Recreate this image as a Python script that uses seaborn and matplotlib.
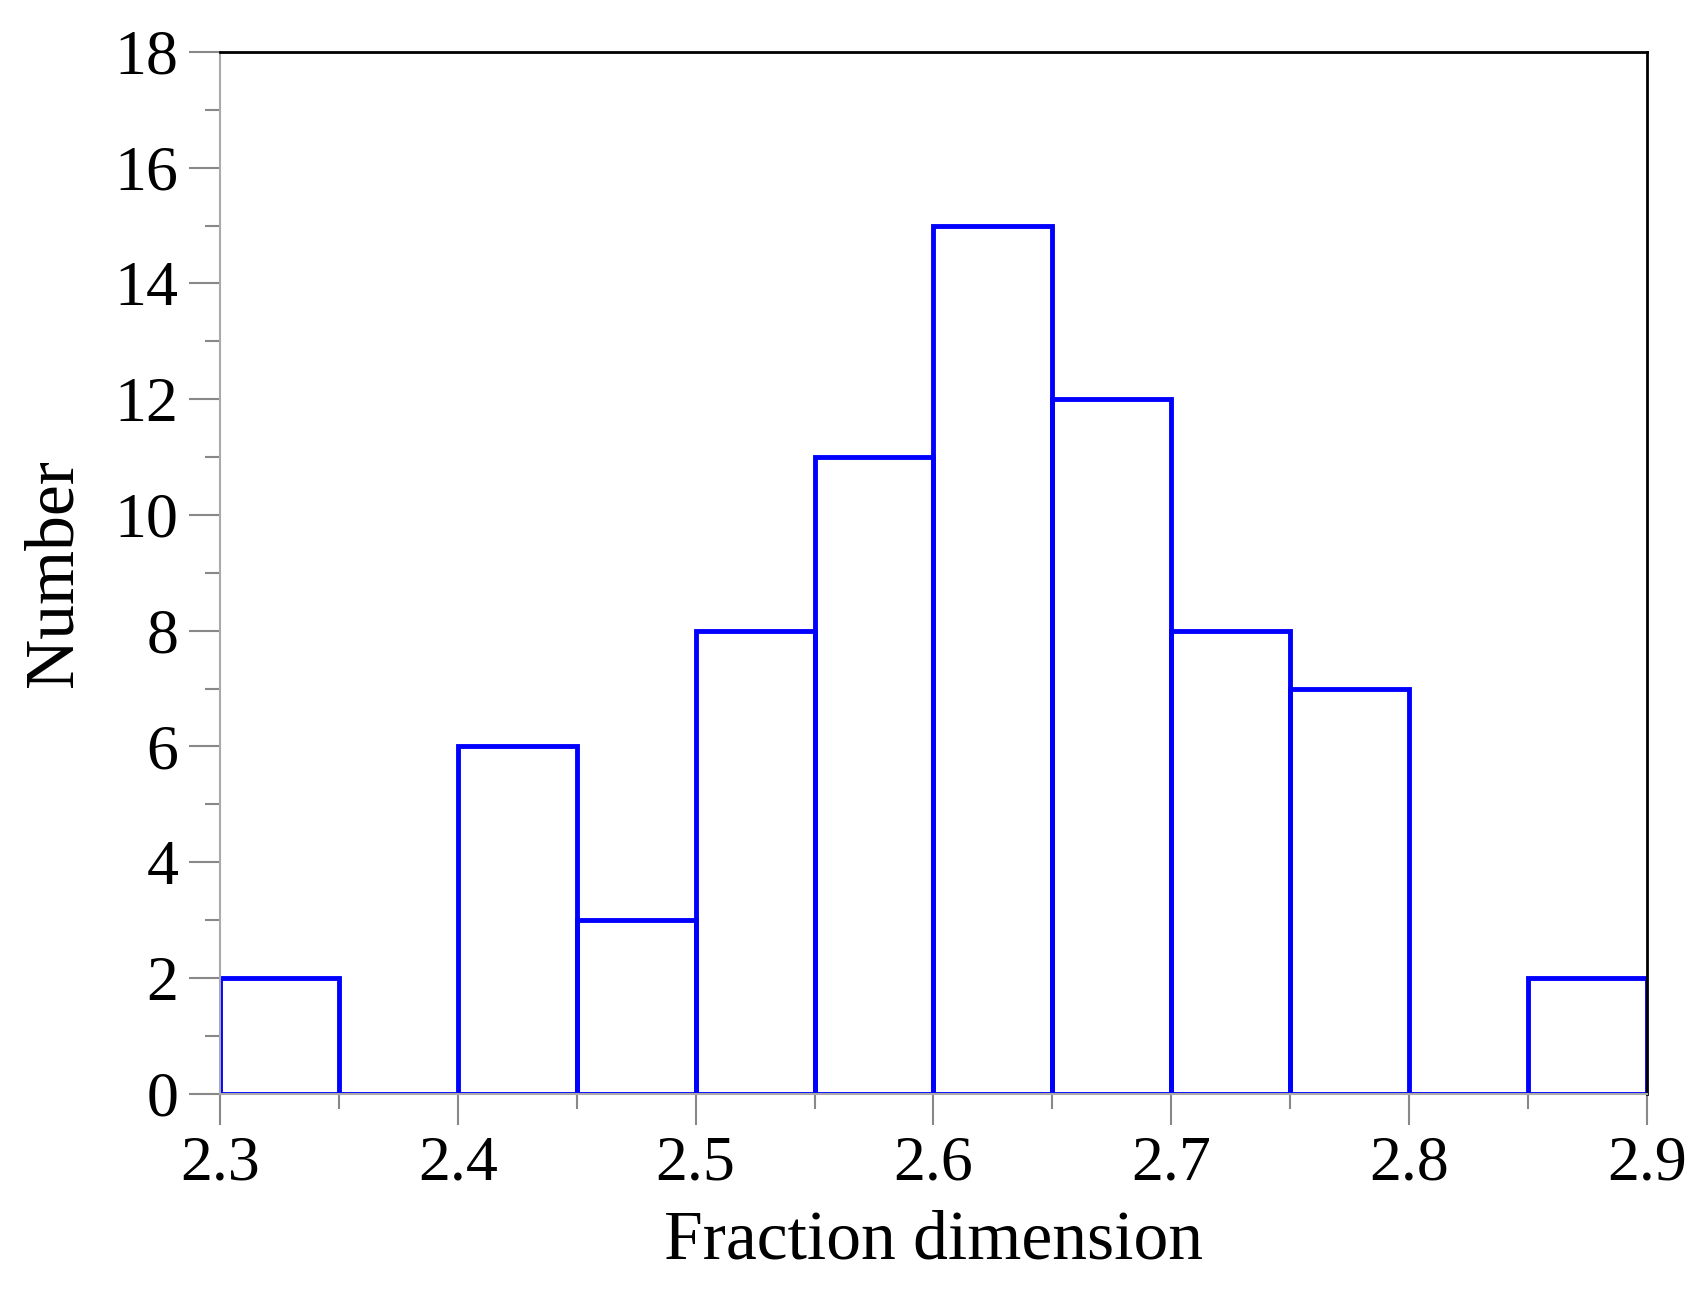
import numpy as np
import pandas as pd
import matplotlib
matplotlib.use("Agg")
import matplotlib.pyplot as plt
import seaborn as sns
from matplotlib.ticker import MultipleLocator

# histogram bins and counts
bin_edges = [2.30, 2.35, 2.40, 2.45, 2.50, 2.55, 2.60, 2.65, 2.70, 2.75, 2.80, 2.85, 2.90]
counts = [2, 0, 6, 3, 8, 11, 15, 12, 8, 7, 0, 2]

centers = [(a + b) / 2 for a, b in zip(bin_edges[:-1], bin_edges[1:])]
df = pd.DataFrame({"dim": centers, "n": counts})

sns.set_style("white")
plt.rcParams["font.family"] = ["Liberation Serif", "DejaVu Serif"]
plt.rcParams["text.color"] = "black"
plt.rcParams["axes.labelcolor"] = "black"
plt.rcParams["xtick.labelcolor"] = "black"
plt.rcParams["ytick.labelcolor"] = "black"

fig = plt.figure(figsize=(17.05, 12.99), dpi=100)
ax = fig.add_axes([0.129, 0.158, 0.837, 0.802])

sns.histplot(data=df, x="dim", weights="n", bins=bin_edges, fill=False,
             element="bars", color="#0000ff", linewidth=3.5, ax=ax)

ax.set_xlim(2.3, 2.9)
ax.set_ylim(0, 18)
ax.xaxis.set_major_locator(MultipleLocator(0.1))
ax.xaxis.set_minor_locator(MultipleLocator(0.05))
ax.yaxis.set_major_locator(MultipleLocator(2))
ax.yaxis.set_minor_locator(MultipleLocator(1))
ax.set_xticks(np.arange(2.3, 2.91, 0.1))
ax.set_xticklabels(["2.3", "2.4", "2.5", "2.6", "2.7", "2.8", "2.9"])

ax.tick_params(axis="both", which="major", direction="out", length=22, width=1.5,
               color="#888888", labelsize=46, labelcolor="black", pad=8,
               bottom=True, left=True)
ax.tick_params(axis="both", which="minor", direction="out", length=11, width=1.5,
               color="#888888", bottom=True, left=True)

for side in ["top", "right"]:
    ax.spines[side].set_color("black")
    ax.spines[side].set_linewidth(2)
for side in ["left", "bottom"]:
    ax.spines[side].set_color("#aaaaaa")
    ax.spines[side].set_linewidth(1.5)

ax.set_xlabel("Fraction dimension", fontsize=50, labelpad=12, color="black")
ax.set_ylabel("Number", fontsize=50, labelpad=20, color="black")

fig.savefig("out.png", dpi=100, facecolor="white")
